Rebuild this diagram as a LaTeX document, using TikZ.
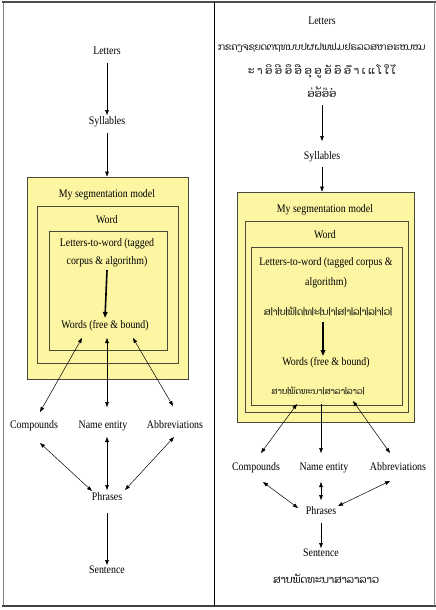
\documentclass[tikz,border=0pt]{standalone}
\usepackage{fontspec}
\setmainfont{Liberation Serif}
\newfontfamily\lblfont[FakeStretch=0.86]{Liberation Serif}
\newfontfamily\laofont[Script=Lao]{Dhyana}
\usetikzlibrary{arrows.meta}
\definecolor{boxfill}{HTML}{FCF6A2}
\definecolor{boxline}{HTML}{4A4A3A}
\definecolor{framegray}{HTML}{808080}
\tikzset{
  lbl/.style={font=\lblfont\fontsize{11.5}{13}\selectfont, inner sep=0pt, text height=8pt, text depth=2.5pt},
  lao/.style={font=\laofont\fontsize{10.5}{12}\selectfont, inner sep=0pt},
  segbox/.style={draw=boxline, line width=0.8pt, fill=boxfill, inner sep=0pt},
  arr/.style={-{Triangle[length=5pt,width=3.6pt]}, line width=0.5pt},
  dbl/.style={{Triangle[length=5pt,width=3.6pt]}-{Triangle[length=5pt,width=3.6pt]}, line width=0.5pt},
  thick arr/.style={-{Triangle[length=6pt,width=4.5pt]}, line width=1.6pt},
}
\begin{document}
\begin{tikzpicture}[x=1pt,y=-1pt]
\useasboundingbox (0,0) rectangle (436,610);
% frame
\draw[framegray, line width=1pt] (3,2) -- (3,606);
\draw[black!70, line width=1.2pt] (2,2) -- (436,2);
\draw[black!75, line width=2.5pt] (2,606) -- (436,606);
\draw[black, line width=0.6pt] (214,2) -- (214,606);
\draw[framegray, line width=1pt] (434,2) -- (434,606);

% ---------------- LEFT ----------------
\node[lbl] (lettersL) at (107,52) {Letters};
\node[lbl] (sylL) at (107,122) {Syllables};
\node[segbox, minimum width=161pt, minimum height=202pt] (outerL) at (107.5,278) {};
\node[segbox, minimum width=141pt, minimum height=157pt] (midL) at (107.5,284.5) {};
\node[segbox, minimum width=118pt, minimum height=119pt] (innerL) at (108,290.5) {};
\node[lbl] (segL) at (107,195) {My segmentation model};
\node[lbl] (wordL) at (107,221) {Word};
\node[lbl, align=center, text height=, text depth=, font=\lblfont\fontsize{11.5}{18}\selectfont] (ltwL) at (107,253) {Letters-to-word (tagged\\corpus \& algorithm)};
\node[lbl] (wordsL) at (105,326) {Words (free \& bound)};
\node[lbl] (compL) at (34,426) {Compounds};
\node[lbl] (nameL) at (103,426) {Name entity};
\node[lbl] (abbrL) at (175,426) {Abbreviations};
\node[lbl] (phrL) at (107,498) {Phrases};
\node[lbl] (sentL) at (107,571) {Sentence};

\draw[arr] ([shift={(0,11)}]lettersL.center) -- ([shift={(0,-7)}]sylL.center);
\draw[arr] ([shift={(0,11)}]sylL.center) -- (sylL.center |- outerL.north);
\draw[thick arr] ([shift={(0,17)}]ltwL.center) -- ([shift={(0,-8)}]wordsL.center);
\draw[dbl] ([shift={(-23,12)}]wordsL.center) -- ([shift={(6,-14)}]compL.center);
\draw[dbl] ([shift={(2,12)}]wordsL.center) -- ([shift={(4,-19)}]nameL.center);
\draw[dbl] ([shift={(28,12)}]wordsL.center) -- ([shift={(-2,-20)}]abbrL.center);
\draw[dbl] ([shift={(6,17)}]compL.center) -- ([shift={(-15,-7)}]phrL.center);
\draw[dbl] ([shift={(4,11)}]nameL.center) -- ([shift={(0,-8)}]phrL.center);
\draw[dbl] ([shift={(-1,11)}]abbrL.center) -- ([shift={(18,-8)}]phrL.center);
\draw[arr] ([shift={(0,15)}]phrL.center) -- ([shift={(0,-6)}]sentL.center);

% ---------------- RIGHT ----------------
\node[lbl] (lettersR) at (322,22) {Letters};
\node[lao, font=\laofont\fontsize{9.6}{11}\selectfont] (consR) at (322,48) {ກຂຄງຈຊຍດຕຖທນບປຜຝພຟມຢຣລວສຫອຮໜໝ};
\node[lao] (vowR) at (322,72) {ະ າ ອິ ອີ ອຶ ອື ອຸ ອູ ອັ ອົ ອໍ ຳ ເ ແ ໂ ໃ ໄ};
\node[lao] (toneR) at (322,92) {ອ່ອ້ອ໊ອ໋};
\node[lbl] (sylR) at (322,157) {Syllables};
\node[segbox, minimum width=177pt, minimum height=230pt] (outerR) at (325.5,307) {};
\node[segbox, minimum width=163pt, minimum height=191pt] (midR) at (326.5,316.5) {};
\node[segbox, minimum width=151pt, minimum height=158pt] (innerR) at (326.5,326) {};
\node[lbl] (segR) at (325,210) {My segmentation model};
\node[lbl] (wordR) at (325,236) {Word};
\node[lbl, align=center, text height=, text depth=, font=\lblfont\fontsize{11.5}{20}\selectfont] (ltwR) at (326,273) {Letters-to-word (tagged corpus \&\\algorithm)};
\node[lao, font=\laofont\fontsize{9.5}{11}\selectfont] (segLaoR) at (328,312) {ສ|າ|ບ|ພັ|ດ|ທ|ະ|ນ|າ|ສ|າ|ລ|າ|ລ|າ|ວ|};
\node[lbl] (wordsR) at (326,363) {Words (free \& bound)};
\node[lao, font=\laofont\fontsize{8.5}{10}\selectfont] (wordsLaoR) at (318,391) {ສາບ|ພັດທະນາ|ສາລາ|ລາວ|};
\node[lbl] (compR) at (256,468) {Compounds};
\node[lbl] (nameR) at (324,468) {Name entity};
\node[lbl] (abbrR) at (398,468) {Abbreviations};
\node[lbl] (phrR) at (321,512) {Phrases};
\node[lbl] (sentR) at (321,554) {Sentence};
\node[lao, font=\laofont\fontsize{10.5}{12}\selectfont] (sentLaoR) at (326,579) {ສາບພັດທະນາສາລາລາວ};

\draw[arr] ([shift={(0,13)}]toneR.center) -- ([shift={(0,-16)}]sylR.center);
\draw[arr] ([shift={(0,10)}]sylR.center) -- (sylR.center |- outerR.north);
\draw[thick arr] ([shift={(-5,10)}]segLaoR.center) -- ([shift={(-3,-7)}]wordsR.center);
\draw[dbl] ([shift={(-21,13)}]wordsLaoR.center) -- ([shift={(5,-15)}]compR.center);
\draw[arr] ([shift={(3,13)}]wordsLaoR.center) -- ([shift={(-3,-15)}]nameR.center);
\draw[dbl] ([shift={(35,10)}]wordsLaoR.center) -- ([shift={(-8,-15)}]abbrR.center);
\draw[dbl] ([shift={(7,14)}]compR.center) -- ([shift={(-23,-4)}]phrR.center);
\draw[dbl] ([shift={(-3,14)}]nameR.center) -- ([shift={(0,-12)}]phrR.center);
\draw[dbl] ([shift={(-8,13)}]abbrR.center) -- ([shift={(17,-6)}]phrR.center);
\draw[arr] ([shift={(0,11)}]phrR.center) -- ([shift={(0,-6)}]sentR.center);
\end{tikzpicture}
\end{document}
